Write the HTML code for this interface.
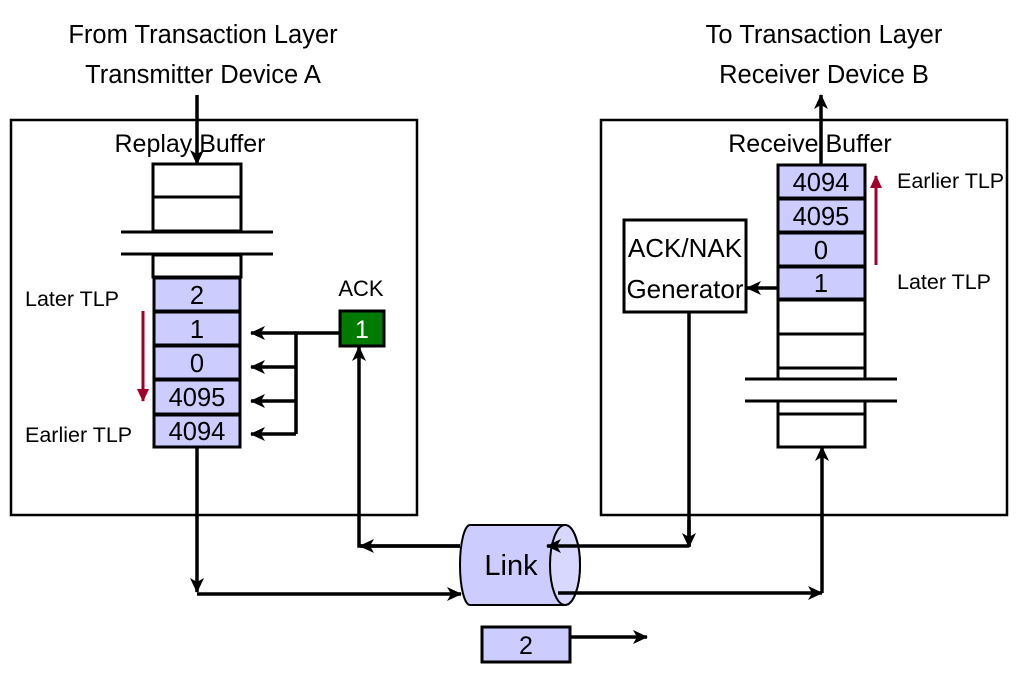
<!DOCTYPE html>
<html><head><style>body{margin:0;background:#fff}svg{display:block}text{font-family:"Liberation Sans",sans-serif;fill:#000}</style></head><body>
<svg width="1025" height="682" viewBox="0 0 1025 682" xmlns="http://www.w3.org/2000/svg">
<defs>
<marker id="a" markerWidth="15" markerHeight="14" refX="14" refY="7" orient="auto" markerUnits="userSpaceOnUse"><path d="M0,0 L15,7 L0,14 L4,7 z" fill="#000"/></marker>
<marker id="r" markerWidth="14" markerHeight="14" refX="12" refY="7" orient="auto" markerUnits="userSpaceOnUse"><path d="M0,1 L13,7 L0,13 z" fill="#a0002a"/></marker>
</defs>
<g font-size="25.5" text-anchor="middle">
<text x="203" y="43">From Transaction Layer</text>
<text x="203" y="83">Transmitter Device A</text>
<text x="824" y="43">To Transaction Layer</text>
<text x="824" y="83">Receiver Device B</text>
</g>
<g fill="none" stroke="#000" stroke-width="2.5">
<rect x="11" y="120" width="406" height="395"/>
<rect x="601" y="120" width="406" height="395"/>
</g>
<text x="190" y="152" font-size="25" text-anchor="middle">Replay Buffer</text>
<text x="810" y="152" font-size="25" text-anchor="middle">Receive Buffer</text>
<g stroke="#000" stroke-width="3" fill="#fff">
<rect x="153" y="164" width="88" height="33"/><rect x="153" y="197" width="88" height="34"/>
<rect x="153" y="255" width="88" height="22"/>
</g>
<g stroke="#000" stroke-width="3"><line x1="121" y1="232" x2="273" y2="232"/><line x1="121" y1="254" x2="273" y2="254"/></g>
<g stroke="#000" stroke-width="3" fill="#ccccff">
<rect x="154" y="278" width="86" height="33"/><rect x="154" y="312" width="86" height="33"/><rect x="154" y="346" width="86" height="33"/><rect x="154" y="380" width="86" height="34"/><rect x="154" y="415" width="86" height="32"/>
</g>
<g font-size="25.5" text-anchor="middle">
<text x="197" y="304">2</text><text x="197" y="338">1</text><text x="197" y="372">0</text><text x="197" y="406">4095</text><text x="197" y="440">4094</text>
</g>
<text x="25" y="306" font-size="21.5">Later TLP</text>
<text x="25" y="442" font-size="21.5">Earlier TLP</text>
<line x1="143" y1="311" x2="143" y2="401" stroke="#a0002a" stroke-width="3" marker-end="url(#r)"/>
<text x="361" y="296" font-size="22" text-anchor="middle">ACK</text>
<rect x="340" y="311" width="44" height="35" fill="#007a00" stroke="#000" stroke-width="3"/>
<text x="362" y="338" font-size="25" text-anchor="middle" style="fill:#fff">1</text>
<g stroke="#000" stroke-width="3.5" fill="none">
<line x1="197" y1="95" x2="197" y2="164" marker-end="url(#a)"/>
<polyline points="339,333 296,333 296,434"/>
<line x1="296" y1="333" x2="251" y2="333" marker-end="url(#a)"/>
<line x1="296" y1="367" x2="251" y2="367" marker-end="url(#a)"/>
<line x1="296" y1="401" x2="251" y2="401" marker-end="url(#a)"/>
<line x1="296" y1="434" x2="251" y2="434" marker-end="url(#a)"/>
<line x1="197" y1="448" x2="197" y2="592" marker-end="url(#a)"/>
<line x1="197" y1="594" x2="461" y2="594" marker-end="url(#a)"/>
<polyline points="460,546 359,546 359,347" marker-end="url(#a)"/>
<line x1="460" y1="546" x2="360" y2="546" marker-end="url(#a)"/>
</g>
<path d="M470,525 H565 A15,40 0 0 1 565,605 H470 A10,40 0 0 1 470,525 z" fill="#ccccff" stroke="#000" stroke-width="2"/>
<ellipse cx="565" cy="565" rx="15" ry="40" fill="#d8d8ff" stroke="#000" stroke-width="2"/>
<text x="511" y="575" font-size="29" text-anchor="middle">Link</text>
<g stroke="#000" stroke-width="3.5" fill="none">
<polyline points="689,312 689,546" />
<line x1="689" y1="520" x2="689" y2="547" marker-end="url(#a)"/>
<line x1="689" y1="546" x2="547" y2="546" marker-end="url(#a)"/>
<line x1="558" y1="593" x2="822" y2="593" marker-end="url(#a)"/>
<line x1="822" y1="593" x2="822" y2="447" marker-end="url(#a)"/>
<line x1="821" y1="164" x2="821" y2="95" marker-end="url(#a)"/>
<line x1="777" y1="288" x2="747" y2="288" marker-end="url(#a)"/>
<line x1="570" y1="637" x2="647" y2="637" marker-end="url(#a)"/>
</g>
<rect x="482" y="627" width="88" height="35" fill="#ccccff" stroke="#000" stroke-width="3"/>
<text x="526" y="654" font-size="25" text-anchor="middle">2</text>
<g stroke="#000" stroke-width="3" fill="#ccccff">
<rect x="778" y="165" width="87" height="33"/><rect x="778" y="199" width="87" height="33"/><rect x="778" y="233" width="87" height="33"/><rect x="778" y="267" width="87" height="32"/>
</g>
<g stroke="#000" stroke-width="3" fill="#fff">
<rect x="778" y="300" width="87" height="34"/><rect x="778" y="334" width="87" height="34"/><rect x="778" y="368" width="87" height="11"/>
<rect x="778" y="401" width="87" height="13"/><rect x="778" y="414" width="87" height="33"/>
</g>
<g stroke="#000" stroke-width="3"><line x1="745" y1="379" x2="897" y2="379"/><line x1="745" y1="401" x2="897" y2="401"/></g>
<g font-size="25.5" text-anchor="middle">
<text x="821" y="191">4094</text><text x="821" y="225">4095</text><text x="821" y="259">0</text><text x="821" y="292">1</text>
</g>
<line x1="876" y1="265" x2="876" y2="176" stroke="#a0002a" stroke-width="3" marker-end="url(#r)"/>
<text x="897" y="188" font-size="21.5">Earlier TLP</text>
<text x="897" y="289" font-size="21.5">Later TLP</text>
<rect x="624" y="220" width="122" height="92" fill="#fff" stroke="#000" stroke-width="3"/>
<text x="685" y="257" font-size="26" text-anchor="middle">ACK/NAK</text>
<text x="685" y="298" font-size="26" text-anchor="middle">Generator</text>
</svg>
</body></html>
